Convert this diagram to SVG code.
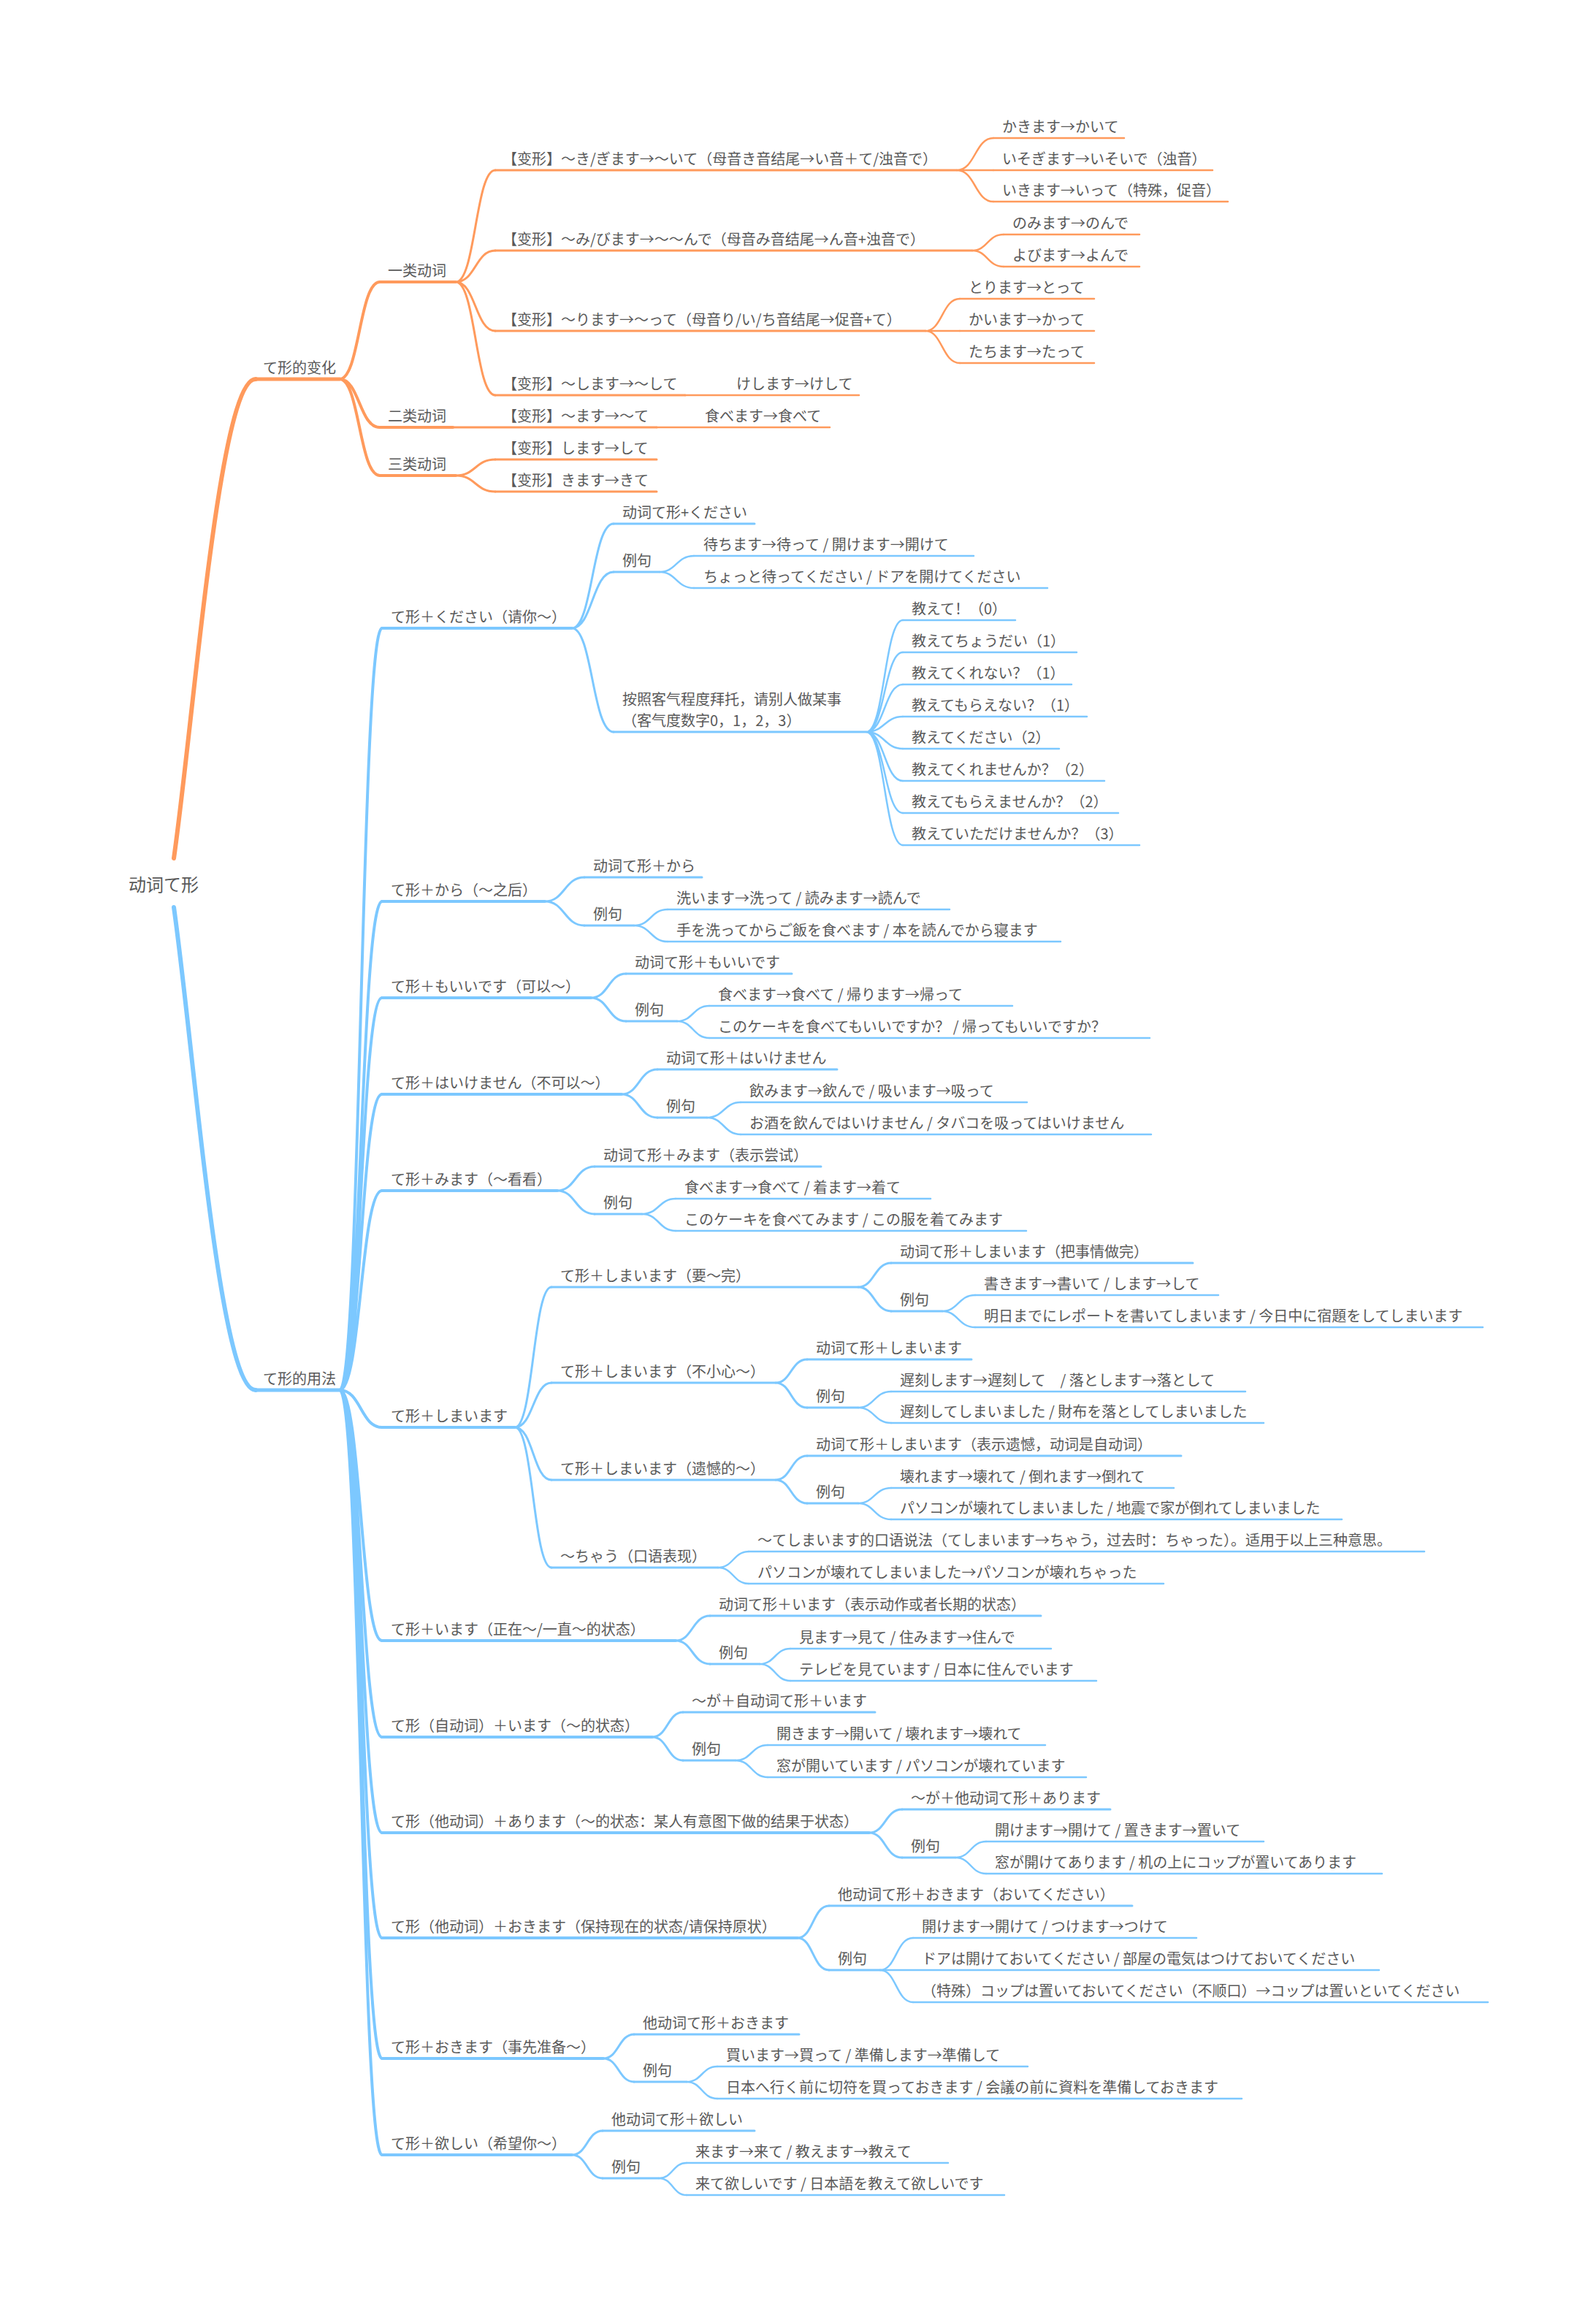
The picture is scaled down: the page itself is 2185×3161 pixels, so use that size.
<svg xmlns="http://www.w3.org/2000/svg" width="2185" height="3161" viewBox="0 0 2185 3161">
<style>
.o{stroke:#FF9A5C;fill:none;stroke-linecap:round}
.b{stroke:#7CC8FF;fill:none;stroke-linecap:round}
.w0{stroke-width:6}
.w1{stroke-width:5}
.w2{stroke-width:4}
.w3{stroke-width:3}
.w4{stroke-width:2.5}
text{font-family:"Noto Sans CJK SC","Noto Sans CJK JP",sans-serif;font-size:20px;fill:#595959}
.root{font-size:24px}
</style>
<rect width="2185" height="3161" fill="#ffffff"/>
<g id="connectors">
<path class="o w0" d="M238 1175C266 978 300 519 350 519"/>
<path class="b w0" d="M238 1242C266 1440 300 1903 350 1903"/>
<path class="o w2" d="M465 519C492 519 492 386 520 386M465 519C492 519 492 585 520 585M465 519C492 519 492 651 520 651"/>
<path class="o w3" d="M624 386C651 386 651 233 678 233M624 386C651 386 651 343 678 343M624 386C651 386 651 453 678 453M624 386C651 386 651 541 678 541"/>
<path class="o w4" d="M1310 233C1335 233 1335 189 1360 189M1310 233H1360M1310 233C1335 233 1335 276 1360 276"/>
<path class="o w4" d="M1331 343C1352 343 1352 321 1374 321M1331 343C1352 343 1352 365 1374 365"/>
<path class="o w4" d="M1267 453C1290 453 1290 409 1314 409M1267 453H1314M1267 453C1290 453 1290 497 1314 497"/>
<path class="o w3" d="M624 651C651 651 651 629 678 629M624 651C651 651 651 673 678 673"/>
<path class="b w2" d="M465 1903C494 1903 494 860 523 860M465 1903C494 1903 494 1234 523 1234M465 1903C494 1903 494 1366 523 1366M465 1903C494 1903 494 1498 523 1498M465 1903C494 1903 494 1630 523 1630M465 1903C494 1903 494 1954 523 1954M465 1903C494 1903 494 2246 523 2246M465 1903C494 1903 494 2378 523 2378M465 1903C494 1903 494 2509 523 2509M465 1903C494 1903 494 2653 523 2653M465 1903C494 1903 494 2818 523 2818M465 1903C494 1903 494 2950 523 2950"/>
<path class="b w3" d="M783 860C811 860 811 717 840 717M783 860C811 860 811 783 840 783M783 860C811 860 811 1002 840 1002"/>
<path class="b w4" d="M903 783C926 783 926 761 950 761M903 783C926 783 926 805 950 805"/>
<path class="b w4" d="M1186 1002C1211 1002 1211 849 1236 849M1186 1002C1211 1002 1211 893 1236 893M1186 1002C1211 1002 1211 937 1236 937M1186 1002C1211 1002 1211 981 1236 981M1186 1002C1211 1002 1211 1025 1236 1025M1186 1002C1211 1002 1211 1069 1236 1069M1186 1002C1211 1002 1211 1113 1236 1113M1186 1002C1211 1002 1211 1157 1236 1157"/>
<path class="b w3" d="M746 1234C773 1234 773 1201 800 1201M746 1234C773 1234 773 1267 800 1267"/>
<path class="b w4" d="M868 1267C891 1267 891 1245 914 1245M868 1267C891 1267 891 1289 914 1289"/>
<path class="b w3" d="M809 1366C833 1366 833 1333 857 1333M809 1366C833 1366 833 1398 857 1398"/>
<path class="b w4" d="M927 1398C949 1398 949 1377 971 1377M927 1398C949 1398 949 1421 971 1421"/>
<path class="b w3" d="M851 1498C875 1498 875 1464 900 1464M851 1498C875 1498 875 1530 900 1530"/>
<path class="b w4" d="M968 1530C991 1530 991 1509 1014 1509M968 1530C991 1530 991 1553 1014 1553"/>
<path class="b w3" d="M763 1630C788 1630 788 1597 814 1597M763 1630C788 1630 788 1662 814 1662"/>
<path class="b w4" d="M879 1662C902 1662 902 1641 925 1641M879 1662C902 1662 902 1685 925 1685"/>
<path class="b w3" d="M705 1954C730 1954 730 1762 755 1762M705 1954C730 1954 730 1893 755 1893M705 1954C730 1954 730 2026 755 2026M705 1954C730 1954 730 2146 755 2146"/>
<path class="b w3" d="M1175 1762C1197 1762 1197 1729 1220 1729M1175 1762C1197 1762 1197 1795 1220 1795"/>
<path class="b w4" d="M1290 1795C1312 1795 1312 1773 1335 1773M1290 1795C1312 1795 1312 1817 1335 1817"/>
<path class="b w3" d="M1062 1893C1083 1893 1083 1861 1105 1861M1062 1893C1083 1893 1083 1927 1105 1927"/>
<path class="b w4" d="M1175 1927C1197 1927 1197 1905 1220 1905M1175 1927C1197 1927 1197 1948 1220 1948"/>
<path class="b w3" d="M1062 2026C1083 2026 1083 1993 1105 1993M1062 2026C1083 2026 1083 2058 1105 2058"/>
<path class="b w4" d="M1175 2058C1197 2058 1197 2037 1220 2037M1175 2058C1197 2058 1197 2080 1220 2080"/>
<path class="b w4" d="M983 2146C1004 2146 1004 2124 1025 2124M983 2146C1004 2146 1004 2168 1025 2168"/>
<path class="b w3" d="M925 2246C948 2246 948 2212 972 2212M925 2246C948 2246 948 2278 972 2278"/>
<path class="b w4" d="M1040 2278C1061 2278 1061 2257 1082 2257M1040 2278C1061 2278 1061 2301 1082 2301"/>
<path class="b w3" d="M893 2378C914 2378 914 2344 935 2344M893 2378C914 2378 914 2410 935 2410"/>
<path class="b w4" d="M1007 2410C1029 2410 1029 2389 1051 2389M1007 2410C1029 2410 1029 2433 1051 2433"/>
<path class="b w3" d="M1190 2509C1212 2509 1212 2477 1235 2477M1190 2509C1212 2509 1212 2543 1235 2543"/>
<path class="b w4" d="M1308 2543C1329 2543 1329 2521 1350 2521M1308 2543C1329 2543 1329 2565 1350 2565"/>
<path class="b w3" d="M1092 2653C1113 2653 1113 2609 1135 2609M1092 2653C1113 2653 1113 2697 1135 2697"/>
<path class="b w4" d="M1205 2697C1227 2697 1227 2653 1250 2653M1205 2697C1227 2697 1227 2741 1250 2741"/>
<path class="b w3" d="M826 2818C847 2818 847 2785 868 2785M826 2818C847 2818 847 2850 868 2850"/>
<path class="b w4" d="M940 2850C961 2850 961 2829 982 2829M940 2850C961 2850 961 2873 982 2873"/>
<path class="b w3" d="M783 2950C804 2950 804 2917 825 2917M783 2950C804 2950 804 2982 825 2982"/>
<path class="b w4" d="M902 2982C921 2982 921 2961 940 2961M902 2982C921 2982 921 3005 940 3005"/>
</g>
<g id="root"><text class="root" x="176" y="1220">动词て形</text></g>
<g id="n-bianhua"><path class="o w1" d="M350 519H465"/><text x="360" y="511">て形的变化</text></g>
<g id="n-yilei"><path class="o w2" d="M520 386H624"/><text x="531" y="378">一类动词</text></g>
<g id="n-yilei-1"><path class="o w3" d="M678 233H1310"/><text x="688" y="225">【变形】～き/ぎます→～いて（母音き音结尾→い音＋て/浊音で）</text></g>
<g id="n-yilei-1a"><path class="o w4" d="M1360 189H1539"/><text x="1372" y="181">かきます→かいて</text></g>
<g id="n-yilei-1b"><path class="o w4" d="M1360 233H1660"/><text x="1372" y="225">いそぎます→いそいで（浊音）</text></g>
<g id="n-yilei-1c"><path class="o w4" d="M1360 276H1681"/><text x="1372" y="268">いきます→いって（特殊，促音）</text></g>
<g id="n-yilei-2"><path class="o w3" d="M678 343H1331"/><text x="688" y="335">【变形】～み/びます→～～んで（母音み音结尾→ん音+浊音で）</text></g>
<g id="n-yilei-2a"><path class="o w4" d="M1374 321H1560"/><text x="1386" y="313">のみます→のんで</text></g>
<g id="n-yilei-2b"><path class="o w4" d="M1374 365H1560"/><text x="1386" y="357">よびます→よんで</text></g>
<g id="n-yilei-3"><path class="o w3" d="M678 453H1267"/><text x="688" y="445">【变形】～ります→～って（母音り/い/ち音结尾→促音+て）</text></g>
<g id="n-yilei-3a"><path class="o w4" d="M1314 409H1498"/><text x="1326" y="401">とります→とって</text></g>
<g id="n-yilei-3b"><path class="o w4" d="M1314 453H1498"/><text x="1326" y="445">かいます→かって</text></g>
<g id="n-yilei-3c"><path class="o w4" d="M1314 497H1498"/><text x="1326" y="489">たちます→たって</text></g>
<g id="n-yilei-4"><path class="o w3" d="M678 541H938"/><text x="688" y="533">【变形】～します→～して</text></g>
<g id="n-yilei-4a"><path class="o w4" d="M938 541H1176"/><text x="1008" y="533">けします→けして</text></g>
<g id="n-erlei"><path class="o w2" d="M520 585H620"/><text x="531" y="577">二类动词</text></g>
<g id="n-erlei-1"><path class="o w3" d="M620 585H899"/><text x="688" y="577">【变形】～ます→～て</text></g>
<g id="n-erlei-1a"><path class="o w4" d="M899 585H1136"/><text x="965" y="577">食べます→食べて</text></g>
<g id="n-sanlei"><path class="o w2" d="M520 651H624"/><text x="531" y="643">三类动词</text></g>
<g id="n-sanlei-1"><path class="o w3" d="M678 629H899"/><text x="688" y="621">【变形】します→して</text></g>
<g id="n-sanlei-2"><path class="o w3" d="M678 673H899"/><text x="688" y="665">【变形】きます→きて</text></g>
<g id="n-yongfa"><path class="b w1" d="M350 1903H465"/><text x="360" y="1895">て形的用法</text></g>
<g id="n-kudasai"><path class="b w2" d="M523 860H783"/><text x="535" y="852">て形＋ください（请你～）</text></g>
<g id="n-kudasai-1"><path class="b w3" d="M840 717H1033"/><text x="852" y="709">动词て形+ください</text></g>
<g id="n-kudasai-2"><path class="b w3" d="M840 783H903"/><text x="852" y="775">例句</text></g>
<g id="n-kudasai-2a"><path class="b w4" d="M950 761H1333"/><text x="963" y="753">待ちます→待って / 開けます→開けて</text></g>
<g id="n-kudasai-2b"><path class="b w4" d="M950 805H1434"/><text x="963" y="797">ちょっと待ってください / ドアを開けてください</text></g>
<g id="n-kudasai-3"><path class="b w3" d="M840 1002H1186"/><text x="852" y="965">按照客气程度拜托，请别人做某事</text><text x="852" y="994">（客气度数字0，1，2，3）</text></g>
<g id="n-kudasai-3a"><path class="b w4" d="M1236 849H1390"/><text x="1248" y="841">教えて！（0）</text></g>
<g id="n-kudasai-3b"><path class="b w4" d="M1236 893H1474"/><text x="1248" y="885">教えてちょうだい（1）</text></g>
<g id="n-kudasai-3c"><path class="b w4" d="M1236 937H1467"/><text x="1248" y="929">教えてくれない？（1）</text></g>
<g id="n-kudasai-3d"><path class="b w4" d="M1236 981H1488"/><text x="1248" y="973">教えてもらえない？（1）</text></g>
<g id="n-kudasai-3e"><path class="b w4" d="M1236 1025H1450"/><text x="1248" y="1017">教えてください（2）</text></g>
<g id="n-kudasai-3f"><path class="b w4" d="M1236 1069H1512"/><text x="1248" y="1061">教えてくれませんか？（2）</text></g>
<g id="n-kudasai-3g"><path class="b w4" d="M1236 1113H1531"/><text x="1248" y="1105">教えてもらえませんか？（2）</text></g>
<g id="n-kudasai-3h"><path class="b w4" d="M1236 1157H1560"/><text x="1248" y="1149">教えていただけませんか？（3）</text></g>
<g id="n-kara"><path class="b w2" d="M523 1234H746"/><text x="535" y="1226">て形＋から（～之后）</text></g>
<g id="n-kara-1"><path class="b w3" d="M800 1201H961"/><text x="812" y="1193">动词て形＋から</text></g>
<g id="n-kara-2"><path class="b w3" d="M800 1267H868"/><text x="812" y="1259">例句</text></g>
<g id="n-kara-2a"><path class="b w4" d="M914 1245H1300"/><text x="926" y="1237">洗います→洗って / 読みます→読んで</text></g>
<g id="n-kara-2b"><path class="b w4" d="M914 1289H1452"/><text x="926" y="1281">手を洗ってからご飯を食べます / 本を読んでから寝ます</text></g>
<g id="n-moii"><path class="b w2" d="M523 1366H809"/><text x="535" y="1358">て形＋もいいです（可以～）</text></g>
<g id="n-moii-1"><path class="b w3" d="M857 1333H1084"/><text x="869" y="1325">动词て形＋もいいです</text></g>
<g id="n-moii-2"><path class="b w3" d="M857 1398H927"/><text x="869" y="1390">例句</text></g>
<g id="n-moii-2a"><path class="b w4" d="M971 1377H1386"/><text x="983" y="1369">食べます→食べて / 帰ります→帰って</text></g>
<g id="n-moii-2b"><path class="b w4" d="M971 1421H1574"/><text x="983" y="1413">このケーキを食べてもいいですか？ / 帰ってもいいですか？</text></g>
<g id="n-ikemasen"><path class="b w2" d="M523 1498H851"/><text x="535" y="1490">て形＋はいけません（不可以～）</text></g>
<g id="n-ikemasen-1"><path class="b w3" d="M900 1464H1146"/><text x="912" y="1456">动词て形＋はいけません</text></g>
<g id="n-ikemasen-2"><path class="b w3" d="M900 1530H968"/><text x="912" y="1522">例句</text></g>
<g id="n-ikemasen-2a"><path class="b w4" d="M1014 1509H1406"/><text x="1026" y="1501">飲みます→飲んで / 吸います→吸って</text></g>
<g id="n-ikemasen-2b"><path class="b w4" d="M1014 1553H1576"/><text x="1026" y="1545">お酒を飲んではいけません / タバコを吸ってはいけません</text></g>
<g id="n-mimasu"><path class="b w2" d="M523 1630H763"/><text x="535" y="1622">て形＋みます（～看看）</text></g>
<g id="n-mimasu-1"><path class="b w3" d="M814 1597H1124"/><text x="826" y="1589">动词て形＋みます（表示尝试）</text></g>
<g id="n-mimasu-2"><path class="b w3" d="M814 1662H879"/><text x="826" y="1654">例句</text></g>
<g id="n-mimasu-2a"><path class="b w4" d="M925 1641H1274"/><text x="937" y="1633">食べます→食べて / 着ます→着て</text></g>
<g id="n-mimasu-2b"><path class="b w4" d="M925 1685H1405"/><text x="937" y="1677">このケーキを食べてみます / この服を着てみます</text></g>
<g id="n-shimau"><path class="b w2" d="M523 1954H705"/><text x="535" y="1946">て形＋しまいます</text></g>
<g id="n-shimau-a"><path class="b w3" d="M755 1762H1175"/><text x="767" y="1754">て形＋しまいます（要～完）</text></g>
<g id="n-shimau-a1"><path class="b w3" d="M1220 1729H1633"/><text x="1232" y="1721">动词て形＋しまいます（把事情做完）</text></g>
<g id="n-shimau-a2"><path class="b w3" d="M1220 1795H1290"/><text x="1232" y="1787">例句</text></g>
<g id="n-shimau-a2a"><path class="b w4" d="M1335 1773H1668"/><text x="1347" y="1765">書きます→書いて / します→して</text></g>
<g id="n-shimau-a2b"><path class="b w4" d="M1335 1817H2030"/><text x="1347" y="1809">明日までにレポートを書いてしまいます / 今日中に宿題をしてしまいます</text></g>
<g id="n-shimau-b"><path class="b w3" d="M755 1893H1062"/><text x="767" y="1885">て形＋しまいます（不小心～）</text></g>
<g id="n-shimau-b1"><path class="b w3" d="M1105 1861H1330"/><text x="1117" y="1853">动词て形＋しまいます</text></g>
<g id="n-shimau-b2"><path class="b w3" d="M1105 1927H1175"/><text x="1117" y="1919">例句</text></g>
<g id="n-shimau-b2a"><path class="b w4" d="M1220 1905H1705"/><text x="1232" y="1897">遅刻します→遅刻して　/ 落とします→落として</text></g>
<g id="n-shimau-b2b"><path class="b w4" d="M1220 1948H1730"/><text x="1232" y="1940">遅刻してしまいました / 財布を落としてしまいました</text></g>
<g id="n-shimau-c"><path class="b w3" d="M755 2026H1062"/><text x="767" y="2018">て形＋しまいます（遗憾的～）</text></g>
<g id="n-shimau-c1"><path class="b w3" d="M1105 1993H1617"/><text x="1117" y="1985">动词て形＋しまいます（表示遗憾，动词是自动词）</text></g>
<g id="n-shimau-c2"><path class="b w3" d="M1105 2058H1175"/><text x="1117" y="2050">例句</text></g>
<g id="n-shimau-c2a"><path class="b w4" d="M1220 2037H1607"/><text x="1232" y="2029">壊れます→壊れて / 倒れます→倒れて</text></g>
<g id="n-shimau-c2b"><path class="b w4" d="M1220 2080H1837"/><text x="1232" y="2072">パソコンが壊れてしまいました / 地震で家が倒れてしまいました</text></g>
<g id="n-shimau-d"><path class="b w3" d="M755 2146H983"/><text x="767" y="2138">～ちゃう（口语表现）</text></g>
<g id="n-shimau-d1"><path class="b w4" d="M1025 2124H1950"/><text x="1037" y="2116">～てしまいます的口语说法（てしまいます→ちゃう，过去时：ちゃった）。适用于以上三种意思。</text></g>
<g id="n-shimau-d2"><path class="b w4" d="M1025 2168H1593"/><text x="1037" y="2160">パソコンが壊れてしまいました→パソコンが壊れちゃった</text></g>
<g id="n-imasu"><path class="b w2" d="M523 2246H925"/><text x="535" y="2238">て形＋います（正在～/一直～的状态）</text></g>
<g id="n-imasu-1"><path class="b w3" d="M972 2212H1425"/><text x="984" y="2204">动词て形＋います（表示动作或者长期的状态）</text></g>
<g id="n-imasu-2"><path class="b w3" d="M972 2278H1040"/><text x="984" y="2270">例句</text></g>
<g id="n-imasu-2a"><path class="b w4" d="M1082 2257H1439"/><text x="1094" y="2249">見ます→見て / 住みます→住んで</text></g>
<g id="n-imasu-2b"><path class="b w4" d="M1082 2301H1501"/><text x="1094" y="2293">テレビを見ています / 日本に住んでいます</text></g>
<g id="n-jidoushi"><path class="b w2" d="M523 2378H893"/><text x="535" y="2370">て形（自动词）＋います（～的状态）</text></g>
<g id="n-jidoushi-1"><path class="b w3" d="M935 2344H1198"/><text x="947" y="2336">～が＋自动词て形＋います</text></g>
<g id="n-jidoushi-2"><path class="b w3" d="M935 2410H1007"/><text x="947" y="2402">例句</text></g>
<g id="n-jidoushi-2a"><path class="b w4" d="M1051 2389H1431"/><text x="1063" y="2381">開きます→開いて / 壊れます→壊れて</text></g>
<g id="n-jidoushi-2b"><path class="b w4" d="M1051 2433H1487"/><text x="1063" y="2425">窓が開いています / パソコンが壊れています</text></g>
<g id="n-arimasu"><path class="b w2" d="M523 2509H1190"/><text x="535" y="2501">て形（他动词）＋あります（～的状态：某人有意图下做的结果于状态）</text></g>
<g id="n-arimasu-1"><path class="b w3" d="M1235 2477H1520"/><text x="1247" y="2469">～が＋他动词て形＋あります</text></g>
<g id="n-arimasu-2"><path class="b w3" d="M1235 2543H1308"/><text x="1247" y="2535">例句</text></g>
<g id="n-arimasu-2a"><path class="b w4" d="M1350 2521H1730"/><text x="1362" y="2513">開けます→開けて / 置きます→置いて</text></g>
<g id="n-arimasu-2b"><path class="b w4" d="M1350 2565H1892"/><text x="1362" y="2557">窓が開けてあります / 机の上にコップが置いてあります</text></g>
<g id="n-okimasu1"><path class="b w2" d="M523 2653H1092"/><text x="535" y="2645">て形（他动词）＋おきます（保持现在的状态/请保持原状）</text></g>
<g id="n-okimasu1-1"><path class="b w3" d="M1135 2609H1550"/><text x="1147" y="2601">他动词て形＋おきます（おいてください）</text></g>
<g id="n-okimasu1-2"><path class="b w3" d="M1135 2697H1205"/><text x="1147" y="2689">例句</text></g>
<g id="n-okimasu1-2a"><path class="b w4" d="M1250 2653H1638"/><text x="1262" y="2645">開けます→開けて / つけます→つけて</text></g>
<g id="n-okimasu1-2b"><path class="b w4" d="M1205 2697H1888"/><text x="1262" y="2689">ドアは開けておいてください / 部屋の電気はつけておいてください</text></g>
<g id="n-okimasu1-2c"><path class="b w4" d="M1250 2741H2037"/><text x="1262" y="2733">（特殊）コップは置いておいてください（不顺口）→コップは置いといてください</text></g>
<g id="n-okimasu2"><path class="b w2" d="M523 2818H826"/><text x="535" y="2810">て形＋おきます（事先准备～）</text></g>
<g id="n-okimasu2-1"><path class="b w3" d="M868 2785H1094"/><text x="880" y="2777">他动词て形＋おきます</text></g>
<g id="n-okimasu2-2"><path class="b w3" d="M868 2850H940"/><text x="880" y="2842">例句</text></g>
<g id="n-okimasu2-2a"><path class="b w4" d="M982 2829H1407"/><text x="994" y="2821">買います→買って / 準備します→準備して</text></g>
<g id="n-okimasu2-2b"><path class="b w4" d="M982 2873H1700"/><text x="994" y="2865">日本へ行く前に切符を買っておきます / 会議の前に資料を準備しておきます</text></g>
<g id="n-hoshii"><path class="b w2" d="M523 2950H783"/><text x="535" y="2942">て形＋欲しい（希望你～）</text></g>
<g id="n-hoshii-1"><path class="b w3" d="M825 2917H1033"/><text x="837" y="2909">他动词て形＋欲しい</text></g>
<g id="n-hoshii-2"><path class="b w3" d="M825 2982H902"/><text x="837" y="2974">例句</text></g>
<g id="n-hoshii-2a"><path class="b w4" d="M940 2961H1298"/><text x="952" y="2953">来ます→来て / 教えます→教えて</text></g>
<g id="n-hoshii-2b"><path class="b w4" d="M940 3005H1375"/><text x="952" y="2997">来て欲しいです / 日本語を教えて欲しいです</text></g>
</svg>
